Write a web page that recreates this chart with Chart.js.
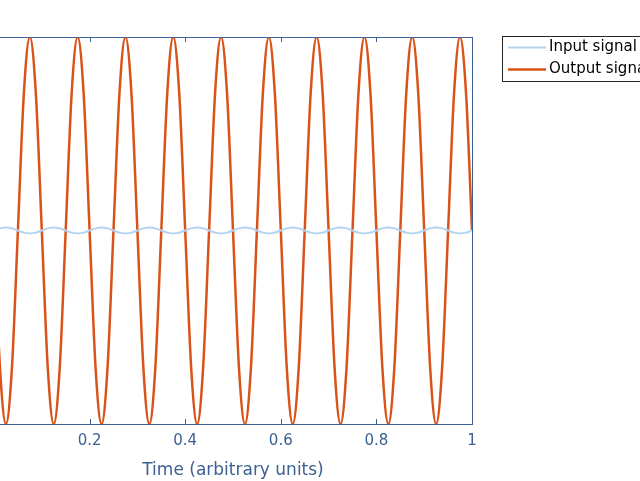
<!DOCTYPE html>
<html>
<head>
<meta charset="utf-8">
<script src="https://cdn.jsdelivr.net/npm/chart.js@4/dist/chart.umd.min.js"></script>
<style>
  html, body { margin: 0; padding: 0; background: #fff; overflow: hidden; }
  #wrap { position: absolute; left: -100px; top: 0; width: 740px; height: 481px; }
</style>
</head>
<body>
<div id="wrap"><canvas id="signalChart"></canvas></div>
<script>
// sample times, every 1/8 of a period
const timeValues = [
    0, 0.0125, 0.025, 0.0375, 0.05, 0.0625, 0.075, 0.0875,
    0.1, 0.1125, 0.125, 0.1375, 0.15, 0.1625, 0.175, 0.1875,
    0.2, 0.2125, 0.225, 0.2375, 0.25, 0.2625, 0.275, 0.2875,
    0.3, 0.3125, 0.325, 0.3375, 0.35, 0.3625, 0.375, 0.3875,
    0.4, 0.4125, 0.425, 0.4375, 0.45, 0.4625, 0.475, 0.4875,
    0.5, 0.5125, 0.525, 0.5375, 0.55, 0.5625, 0.575, 0.5875,
    0.6, 0.6125, 0.625, 0.6375, 0.65, 0.6625, 0.675, 0.6875,
    0.7, 0.7125, 0.725, 0.7375, 0.75, 0.7625, 0.775, 0.7875,
    0.8, 0.8125, 0.825, 0.8375, 0.85, 0.8625, 0.875, 0.8875,
    0.9, 0.9125, 0.925, 0.9375, 0.95, 0.9625, 0.975, 0.9875,
    1
];
const inputSignal = [
    0, 0.011, 0.015, 0.011, 0, -0.011, -0.015, -0.011,
    0, 0.011, 0.015, 0.011, 0, -0.011, -0.015, -0.011,
    0, 0.011, 0.015, 0.011, 0, -0.011, -0.015, -0.011,
    0, 0.011, 0.015, 0.011, 0, -0.011, -0.015, -0.011,
    0, 0.011, 0.015, 0.011, 0, -0.011, -0.015, -0.011,
    0, 0.011, 0.015, 0.011, 0, -0.011, -0.015, -0.011,
    0, 0.011, 0.015, 0.011, 0, -0.011, -0.015, -0.011,
    0, 0.011, 0.015, 0.011, 0, -0.011, -0.015, -0.011,
    0, 0.011, 0.015, 0.011, 0, -0.011, -0.015, -0.011,
    0, 0.011, 0.015, 0.011, 0, -0.011, -0.015, -0.011,
    0
];
const outputSignal = [
    0, -0.71, -1, -0.71, 0, 0.71, 1, 0.71,
    0, -0.71, -1, -0.71, 0, 0.71, 1, 0.71,
    0, -0.71, -1, -0.71, 0, 0.71, 1, 0.71,
    0, -0.71, -1, -0.71, 0, 0.71, 1, 0.71,
    0, -0.71, -1, -0.71, 0, 0.71, 1, 0.71,
    0, -0.71, -1, -0.71, 0, 0.71, 1, 0.71,
    0, -0.71, -1, -0.71, 0, 0.71, 1, 0.71,
    0, -0.71, -1, -0.71, 0, 0.71, 1, 0.71,
    0, -0.71, -1, -0.71, 0, 0.71, 1, 0.71,
    0, -0.71, -1, -0.71, 0, 0.71, 1, 0.71,
    0
];
const xTickValues = [0, 0.2, 0.4, 0.6, 0.8, 1];
const xTickLabels = ['0', '0.2', '0.4', '0.6', '0.8', '1'];
const seriesNames = ['Input signal', 'Output signal'];

const AXIS_COLOR = '#3d6192';
const INPUT_COLOR = '#b3d3ef';
const OUTPUT_COLOR = '#d95319';
const FONT = 'DejaVu Sans';

function toPoints(values) {
    return timeValues.map((t, i) => ({ x: t, y: values[i] }));
}

// box, inward ticks and legend, MATLAB style
const matlabFrame = {
    id: 'matlabFrame',
    afterDatasetsDraw(chart) {
        const { ctx, chartArea: a, scales } = chart;
        ctx.save();
        ctx.strokeStyle = AXIS_COLOR;
        ctx.lineWidth = 1;
        ctx.strokeRect(a.left + 0.5, a.top + 0.5, a.right - a.left, a.bottom - a.top);
        xTickValues.forEach(v => {
            const px = Math.round(scales.x.getPixelForValue(v)) + 0.5;
            ctx.beginPath();
            ctx.moveTo(px, a.bottom); ctx.lineTo(px, a.bottom - 5);
            ctx.moveTo(px, a.top); ctx.lineTo(px, a.top + 5);
            ctx.stroke();
        });

        // legend
        const lx = 602, ly = 36;
        ctx.fillStyle = '#fff';
        ctx.fillRect(lx, ly, 200, 45);
        ctx.strokeStyle = '#262626';
        ctx.strokeRect(lx + 0.5, ly + 0.5, 200, 45);
        const colors = [INPUT_COLOR, OUTPUT_COLOR];
        const widths = [2, 2.5];
        ctx.font = '15px ' + FONT;
        ctx.textBaseline = 'middle';
        seriesNames.forEach((name, i) => {
            const y = ly + 11.5 + i * 22;
            ctx.strokeStyle = colors[i];
            ctx.lineWidth = widths[i];
            ctx.beginPath();
            ctx.moveTo(lx + 6, y); ctx.lineTo(lx + 44, y);
            ctx.stroke();
            ctx.fillStyle = '#000';
            ctx.fillText(name, lx + 47, y);
        });
        ctx.restore();
    }
};

new Chart(document.getElementById('signalChart'), {
    type: 'line',
    data: {
        datasets: [{
            label: seriesNames[0],
            data: toPoints(inputSignal),
            borderColor: INPUT_COLOR,
            borderWidth: 2,
            pointRadius: 0,
            cubicInterpolationMode: 'monotone'
        }, {
            label: seriesNames[1],
            data: toPoints(outputSignal),
            borderColor: OUTPUT_COLOR,
            borderWidth: 2.5,
            pointRadius: 0,
            cubicInterpolationMode: 'monotone'
        }]
    },
    options: {
        responsive: true,
        maintainAspectRatio: false,
        animation: false,
        layout: { padding: { left: 94, right: 168, top: 37, bottom: 0 } },
        plugins: { legend: { display: false }, tooltip: { enabled: false } },
        scales: {
            x: {
                type: 'linear',
                min: 0,
                max: 1,
                afterBuildTicks(scale) {
                    scale.ticks = xTickValues.map(v => ({ value: v }));
                },
                afterFit(scale) { scale.height = 57; },
                grid: { display: false, drawTicks: false },
                border: { display: false },
                ticks: {
                    color: AXIS_COLOR,
                    font: { family: FONT, size: 15 },
                    padding: 8,
                    maxRotation: 0,
                    callback: function(value) {
                        const i = xTickValues.indexOf(value);
                        return i >= 0 ? xTickLabels[i] : '';
                    }
                },
                title: {
                    display: true,
                    text: 'Time (arbitrary units)',
                    color: AXIS_COLOR,
                    font: { family: FONT, size: 17 },
                    padding: { top: 2, bottom: 0 }
                }
            },
            y: {
                min: -1,
                max: 1,
                display: false
            }
        }
    },
    plugins: [matlabFrame]
});
</script>
</body>
</html>
